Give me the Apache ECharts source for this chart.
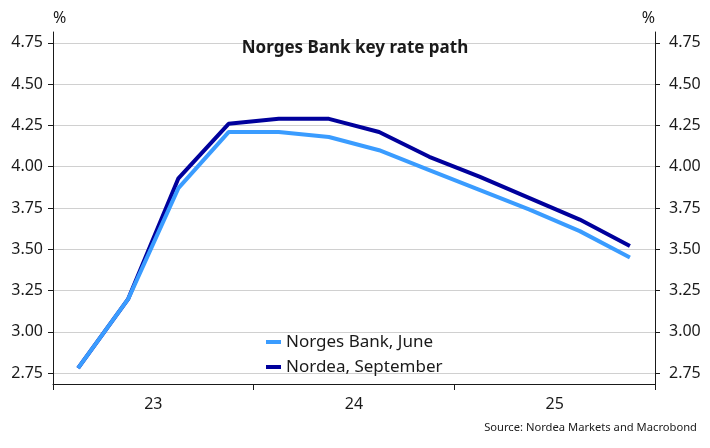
<!DOCTYPE html>
<html>
<head>
<meta charset="utf-8">
<script src="https://cdn.jsdelivr.net/npm/echarts@6/dist/echarts.min.js"></script>
<style>
  html, body { margin: 0; padding: 0; background: #fff; }
  #chart { width: 710px; height: 448px; }
</style>
</head>
<body>
<div id="chart"></div>
<script>
// quarters 2023Q1 .. 2025Q4
var quarters = ["23Q1", "23Q2", "23Q3", "23Q4", "24Q1", "24Q2", "24Q3", "24Q4", "25Q1", "25Q2", "25Q3", "25Q4"];
var years = ["23", "24", "25"];
var norgesBankJune = [2.78, 3.20, 3.87, 4.21, 4.21, 4.18, 4.10, 3.98, 3.86, 3.74, 3.61, 3.45];
var nordeaSeptember = [2.78, 3.20, 3.93, 4.26, 4.29, 4.29, 4.21, 4.06, 3.94, 3.81, 3.68, 3.52];
var yTicks = [2.75, 3.00, 3.25, 3.50, 3.75, 4.00, 4.25, 4.50, 4.75];

var font = "Noto Sans";
var ink = "#1a1a1a";

var chart = echarts.init(document.getElementById("chart"));

function yAxis(pos, margin, align) {
  return {
    type: "value",
    position: pos,
    min: 2.684,
    max: 4.816,
    name: "%",
    nameLocation: "end",
    nameGap: 6,
    nameTextStyle: { fontFamily: font, fontSize: 16, color: ink, align: align },
    axisLine: { show: true, lineStyle: { color: ink, width: 1 } },
    axisTick: { show: true, length: 5, lineStyle: { color: ink }, customValues: yTicks },
    axisLabel: {
      fontFamily: font, fontSize: 16, color: ink, margin: margin,
      customValues: yTicks,
      formatter: function (v) { return v.toFixed(2); }
    },
    splitLine: { show: pos === "left", lineStyle: { color: "#d0d0d0", width: 1 } }
  };
}

chart.setOption({
  animation: false,
  backgroundColor: "#fff",
  title: {
    text: "Norges Bank key rate path",
    left: "center",
    top: 40,
    padding: 0,
    textStyle: { fontFamily: font, fontSize: 17, fontWeight: "bold", color: ink }
  },
  legend: {
    data: ["Norges Bank, June", "Nordea, September"],
    orient: "vertical",
    left: 266,
    top: 333,
    padding: 0,
    itemGap: 7,
    itemWidth: 15,
    itemHeight: 4,
    icon: "rect",
    textStyle: { fontFamily: font, fontSize: 17, color: ink, lineHeight: 18 }
  },
  grid: { left: 53, right: 55, top: 32, bottom: 64, containLabel: false },
  xAxis: [
    { type: "category", data: quarters, show: false, boundaryGap: true },
    {
      type: "category",
      data: years,
      position: "bottom",
      boundaryGap: true,
      axisLine: { show: true, lineStyle: { color: ink, width: 1 } },
      axisTick: { show: true, length: 6, lineStyle: { color: ink } },
      axisLabel: { fontFamily: font, fontSize: 16, color: ink, margin: 12 },
      splitLine: { show: false }
    }
  ],
  yAxis: [yAxis("left", 10, "left"), yAxis("right", 14, "right")],
  series: [
    {
      name: "Nordea, September",
      type: "line",
      data: nordeaSeptember,
      xAxisIndex: 0,
      yAxisIndex: 0,
      symbol: "none",
      color: "#00009c",
      lineStyle: { width: 4, color: "#00009c" }
    },
    {
      name: "Norges Bank, June",
      type: "line",
      data: norgesBankJune,
      xAxisIndex: 0,
      yAxisIndex: 0,
      symbol: "none",
      color: "#3a9cff",
      lineStyle: { width: 4, color: "#3a9cff" }
    }
  ],
  graphic: [
    {
      type: "text",
      right: 13,
      top: 422,
      style: { text: "Source: Nordea Markets and Macrobond", fontFamily: font, fontSize: 11.2, fill: ink }
    }
  ]
});
</script>
</body>
</html>
